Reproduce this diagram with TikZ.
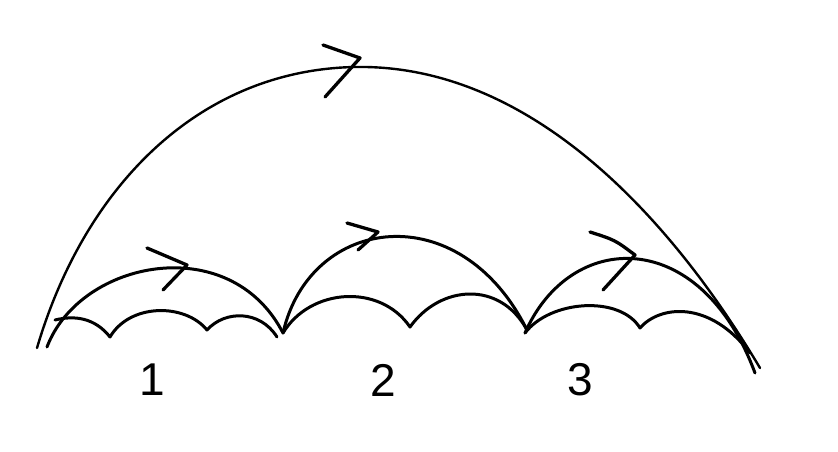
\documentclass[tikz,border=0pt]{standalone}
\usepackage{fontspec}
\setmainfont{Liberation Sans}
\begin{document}
\begin{tikzpicture}[x=1pt,y=-1pt,
  stroke/.style={line width=3pt,line cap=round,line join=round,black},
  thin stroke/.style={line width=2.4pt,line cap=round,line join=round,black},
  chev/.style={line width=3.3pt,line cap=round,line join=round,black},
  lab/.style={font=\fontsize{46}{48}\selectfont,inner sep=0pt}]
\useasboundingbox (0,0) rectangle (838,452);
% end points
\coordinate (bigS) at (37,348);
\coordinate (bigT) at (355,67);
\coordinate (bigE) at (760,368);
\coordinate (m1S) at (47,347);
\coordinate (m1E) at (283,333);
\coordinate (m2S) at (283,333);
\coordinate (m2E) at (527,330);
\coordinate (m3S) at (525,333);
\coordinate (m3E) at (755,373);
\coordinate (s1S) at (55,320);
\coordinate (s1a) at (110,337);
\coordinate (s1b) at (207,330);
\coordinate (s1E) at (277,337);
\coordinate (s2a) at (410,327);
\coordinate (s3a) at (640,328);
\coordinate (s3E) at (750,353);
% big arc
\draw[thin stroke] (bigS) .. controls (85,185) and (200,70) .. (bigT)
  .. controls (520,64) and (660,200) .. (bigE);
% medium arcs
\draw[stroke] (m1S) .. controls (80,260) and (230,230) .. (m1E);
\draw[stroke] (m2S) .. controls (310,215) and (460,195) .. (m2E);
\draw[stroke] (m3S) .. controls (570,230) and (700,225) .. (m3E);
% scallops
\draw[stroke] (s1S) .. controls (75,315) and (95,318) .. (s1a)
  .. controls (130,303) and (185,303) .. (s1b)
  .. controls (225,310) and (260,310) .. (s1E);
\draw[stroke] (m2S) .. controls (310,288) and (380,283) .. (s2a)
  .. controls (440,285) and (500,280) .. (m2E);
\draw[stroke] (m3S) .. controls (550,300) and (620,295) .. (s3a)
  .. controls (660,305) and (710,300) .. (s3E);
% chevrons
\coordinate (a0a) at (323,45); \coordinate (a0b) at (360,58); \coordinate (a0c) at (325,97);
\coordinate (a1a) at (147,248); \coordinate (a1b) at (187,265); \coordinate (a1c) at (163,290);
\coordinate (a2a) at (347,223); \coordinate (a2b) at (378,232); \coordinate (a2c) at (358,250);
\coordinate (a3a) at (590,232); \coordinate (a3b) at (635,255); \coordinate (a3c) at (603,290);
\draw[chev] (a0a) -- (a0b) -- (a0c);
\draw[chev] (a1a) -- (a1b) -- (a1c);
\draw[chev] (a2a) -- (a2b) -- (a2c);
\draw[chev] (a3a) .. controls (615,240) .. (a3b) -- (a3c);
% labels
\node[lab] (l1) at (152,380) {1};
\node[lab] (l2) at (383,380) {2};
\node[lab] (l3) at (580,380) {3};
\end{tikzpicture}
\end{document}
